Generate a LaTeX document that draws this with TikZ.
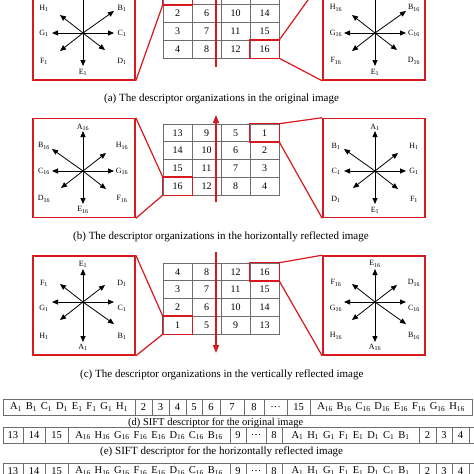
\documentclass[tikz,border=0pt]{standalone}
\usepackage{fontspec}
\setmainfont{Liberation Serif}
\usetikzlibrary{arrows.meta}
\definecolor{sred}{HTML}{D7191F}
\definecolor{gline}{HTML}{6E6E6E}
\newcommand\ssub[1]{\textsubscript{#1}}
\tikzset{
 cell/.style={draw=gline, line width=0.6pt, minimum width=29pt, minimum height=17.75pt, inner sep=0pt, font=\fontsize{10}{10}\selectfont},
 bigbox/.style={draw=sred, line width=1.6pt, minimum width=102pt, minimum height=99pt, inner sep=0pt},
 redline/.style={draw=sred, line width=1.2pt},
 redcell/.style={draw=sred, line width=1.4pt},
 vec/.style={-{Triangle[length=6pt,width=5pt]}, line width=0.8pt, black},
 lab/.style={font=\fontsize{8}{8}\selectfont, inner sep=0pt},
 flip/.style={-{Triangle[length=8pt,width=6pt]}, draw=sred, line width=1.5pt},
 captext/.style={font=\fontsize{11}{12}\selectfont, anchor=west, inner sep=0pt},
 dcell/.style={draw=gline, line width=0.6pt, inner sep=0pt, font=\fontsize{10.5}{11}\selectfont},
}
% #1 name #2 x #3 y #4 sx #5 sy #6 subscript #7 label shift #8 subscript of E
\newcommand\dstar[8]{%
 \coordinate (#1) at (#2,#3);
 \draw[vec] (#1) -- ++(0,{-40*#5});
 \draw[vec] (#1) -- ++({31*#4},{-22*#5});
 \draw[vec] (#1) -- ++({31*#4},0);
 \draw[vec] (#1) -- ++({22*#4},{17*#5});
 \draw[vec] (#1) -- ++(0,{33*#5});
 \draw[vec] (#1) -- ++({-23*#4},{18*#5});
 \draw[vec] (#1) -- ++({-31*#4},0);
 \draw[vec] (#1) -- ++({-23*#4},{-18*#5});
 \path (#1) ++(0,{(#5>0 ? -44 : 39)+#7}) node[lab] (#1A) {A\ssub{#6}};
 \path (#1) ++({39*#4},{(#5>0 ? -25 : 28)+#7}) node[lab] (#1B) {B\ssub{#6}};
 \path (#1) ++({39*#4},{#7}) node[lab] (#1C) {C\ssub{#6}};
 \path (#1) ++({39*#4},{(#5>0 ? 28 : -25)+#7}) node[lab] (#1D) {D\ssub{#6}};
 \path (#1) ++(0,{(#5>0 ? 39 : -44)+#7}) node[lab] (#1E) {E\ssub{#8}};
 \path (#1) ++({-39*#4},{(#5>0 ? 28 : -25)+#7}) node[lab] (#1F) {F\ssub{#6}};
 \path (#1) ++({-39*#4},{#7}) node[lab] (#1G) {G\ssub{#6}};
 \path (#1) ++({-39*#4},{(#5>0 ? -25 : 28)+#7}) node[lab] (#1H) {H\ssub{#6}};
}
% #1 prefix #2 top y #3 numbers row-major
\newcommand\dgrid[3]{%
 \foreach \n [count=\i from 0] in {#3} {
   \pgfmathtruncatemacro\cc{mod(\i,4)}
   \pgfmathtruncatemacro\rr{int(\i/4)}
   \node[cell] (#1\n) at ({177.5+29*\cc},{#2+8.875+17.75*\rr}) {\n};
 }
}
% #1 prefix #2 center y #3 height #4 list x0/x1/text
\newcommand\drow[4]{%
 \foreach \a/\b/\t [count=\k] in {#4} {
   \node[dcell, minimum width={(\b-\a)*1pt}, minimum height=#3pt] (#1\k) at ({(\a+\b)/2},#2) {\t};
 }
}
\newcommand\gap{\hspace{4pt}}
\begin{document}
\begin{tikzpicture}[x=1pt,y=-1pt]
\useasboundingbox (0,0) rectangle (474,474);
\clip (0,0) rectangle (474,474);
\fill[white] (0,0) rectangle (474,474);

% ---------- (a) ----------
\node[bigbox] (La) at (84,30.5) {};
\node[bigbox] (Ra) at (374,30.5) {};
\dstar{sla}{83}{33}{1}{1}{1}{0}{1}
\dstar{sra}{375}{33}{1}{1}{16}{0}{1}
\dgrid{ga}{-13}{1,5,9,13,2,6,10,14,3,7,11,15,4,8,12,16}
\coordinate (fa0) at (216,67);
\coordinate (fa1) at (216,-25);
\draw[flip] (fa0) -- (fa1);
\draw[redcell] (ga1.north west) rectangle (ga1.south east);
\draw[redcell] (ga16.north west) rectangle (ga16.south east);
\draw[redline] (La.north east) -- (ga1.north west);
\draw[redline] (La.south east) -- (ga1.south west);
\draw[redline] (ga16.north east) -- (Ra.north west);
\draw[redline] (ga16.south east) -- (Ra.south west);
\node[captext] (capa) at (104,99) {(a) The descriptor organizations in the original image};

% ---------- (b) ----------
\node[bigbox] (Lb) at (84,168) {};
\node[bigbox] (Rb) at (374,168) {};
\dstar{slb}{83}{171}{-1}{1}{16}{0}{16}
\dstar{srb}{375}{171}{-1}{1}{1}{0}{1}
\dgrid{gb}{124}{13,9,5,1,14,10,6,2,15,11,7,3,16,12,8,4}
\coordinate (fb0) at (216,202);
\coordinate (fb1) at (216,115);
\draw[flip] (fb0) -- (fb1);
\draw[redcell] (gb16.north west) rectangle (gb16.south east);
\draw[redcell] (gb1.north west) rectangle (gb1.south east);
\draw[redline] (Lb.north east) -- (gb16.north west);
\draw[redline] (Lb.south east) -- (gb16.south west);
\draw[redline] (gb1.north east) -- (Rb.north west);
\draw[redline] (gb1.south east) -- (Rb.south west);
\node[captext] (capb) at (73,237) {(b) The descriptor organizations in the horizontally reflected image};

% ---------- (c) ----------
\node[bigbox] (Lc) at (84,305.5) {};
\node[bigbox] (Rc) at (374,305.5) {};
\dstar{slc}{83}{302}{1}{-1}{1}{6}{1}
\dstar{src}{375}{302}{1}{-1}{16}{6}{16}
\dgrid{gc}{263}{4,8,12,16,3,7,11,15,2,6,10,14,1,5,9,13}
\coordinate (fc0) at (216,252);
\coordinate (fc1) at (216,353);
\draw[flip] (fc0) -- (fc1);
\draw[redcell] (gc1.north west) rectangle (gc1.south east);
\draw[redcell] (gc16.north west) rectangle (gc16.south east);
\draw[redline] (Lc.north east) -- (gc1.north west);
\draw[redline] (Lc.south east) -- (gc1.south west);
\draw[redline] (gc16.north east) -- (Rc.north west);
\draw[redline] (gc16.south east) -- (Rc.south west);
\node[captext] (capc) at (80,375) {(c) The descriptor organizations in the vertically reflected image};

% ---------- descriptors ----------
\drow{rd}{407}{16}{3/135/{A\ssub{1}\gap B\ssub{1}\gap C\ssub{1}\gap D\ssub{1}\gap E\ssub{1}\gap F\ssub{1}\gap G\ssub{1}\gap H\ssub{1}},
 135/152/2, 152/169/3, 169/186/4, 186/202/5, 202/220/6, 220/244/7, 244/264/8, 264/287/{\dots}, 287/310/15,
 310/472/{A\ssub{16}\gap B\ssub{16}\gap C\ssub{16}\gap D\ssub{16}\gap E\ssub{16}\gap F\ssub{16}\gap G\ssub{16}\gap H\ssub{16}}}
\node[captext, font=\fontsize{10.5}{12}\selectfont] (capd) at (128,423) {(d) SIFT descriptor for the original image};
\drow{re}{435.5}{15.5}{3/23/13, 23/45/14, 45/68/15,
 68/230/{A\ssub{16}\gap H\ssub{16}\gap G\ssub{16}\gap F\ssub{16}\gap E\ssub{16}\gap D\ssub{16}\gap C\ssub{16}\gap B\ssub{16}},
 230/246/9, 246/266/{\dots}, 266/282/8,
 282/419/{A\ssub{1}\gap H\ssub{1}\gap G\ssub{1}\gap F\ssub{1}\gap E\ssub{1}\gap D\ssub{1}\gap C\ssub{1}\gap B\ssub{1}},
 419/436/2, 436/452/3, 452/469/4, 469/490/{}}
\node[captext] (cape) at (100,452) {(e) SIFT descriptor for the horizontally reflected image};
\drow{rf}{471}{16}{3/23/13, 23/45/14, 45/68/15,
 68/230/{A\ssub{16}\gap H\ssub{16}\gap G\ssub{16}\gap F\ssub{16}\gap E\ssub{16}\gap D\ssub{16}\gap C\ssub{16}\gap B\ssub{16}},
 230/246/9, 246/266/{\dots}, 266/282/8,
 282/419/{A\ssub{1}\gap H\ssub{1}\gap G\ssub{1}\gap F\ssub{1}\gap E\ssub{1}\gap D\ssub{1}\gap C\ssub{1}\gap B\ssub{1}},
 419/436/2, 436/452/3, 452/469/4, 469/490/{}}
\end{tikzpicture}
\end{document}
